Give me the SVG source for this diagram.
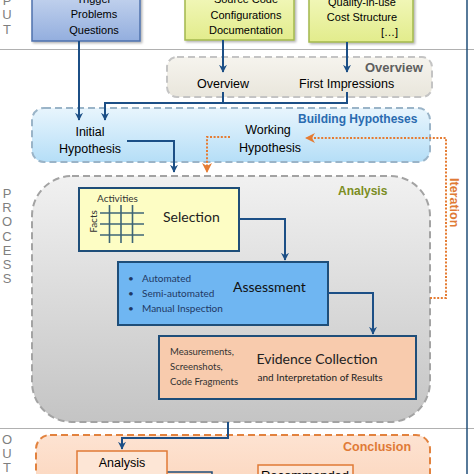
<svg xmlns="http://www.w3.org/2000/svg" width="474" height="474" viewBox="0 0 474 474">
<style>
.ar{font-family:"Liberation Sans",Arial,sans-serif}
.cb{font-family:Lato,"Open Sans",sans-serif}
.side{font-family:"Liberation Sans",Arial,sans-serif;font-size:13px;fill:#7f7f7f;text-anchor:middle}
.conn{fill:none;stroke:#1c4f86;stroke-width:2}
.iter{fill:none;stroke:#e57c33;stroke-width:2;stroke-dasharray:2 1.6}
.box{stroke:#1f4e79;stroke-width:2}
.grid{stroke:#3e6577;stroke-width:1.6}
</style>
<defs>
<linearGradient id="gBlue" x1="0" y1="0" x2="0" y2="1"><stop offset="0" stop-color="#d3dff3"/><stop offset="1" stop-color="#93aede"/></linearGradient>
<linearGradient id="gYel" x1="0" y1="0" x2="0" y2="1"><stop offset="0" stop-color="#f7fbc9"/><stop offset="1" stop-color="#e2ec8c"/></linearGradient>
<linearGradient id="gOv" x1="0" y1="0" x2="0" y2="1"><stop offset="0" stop-color="#f6f4ee"/><stop offset="1" stop-color="#e9e6dc"/></linearGradient>
<linearGradient id="gHyp" x1="0" y1="0" x2="0" y2="1"><stop offset="0" stop-color="#e8f5fd"/><stop offset="1" stop-color="#b5def7"/></linearGradient>
<linearGradient id="gAn" x1="0" y1="0" x2="0" y2="1"><stop offset="0" stop-color="#f1f1f1"/><stop offset="1" stop-color="#c4c4c4"/></linearGradient>
<linearGradient id="gCon" x1="0" y1="0" x2="0" y2="1"><stop offset="0" stop-color="#fde3d2"/><stop offset="1" stop-color="#fbd0b4"/></linearGradient>
<filter id="sh" x="-10%" y="-10%" width="130%" height="130%"><feDropShadow dx="1.5" dy="1.5" stdDeviation="1.2" flood-color="#000" flood-opacity="0.3"/></filter>
<marker id="ab" viewBox="0 0 10 10" refX="9" refY="5" markerWidth="8" markerHeight="8" markerUnits="userSpaceOnUse" orient="auto"><path d="M0,0 L10,5 L0,10 L3,5 Z" fill="#1c4f86"/></marker>
<marker id="ao" viewBox="0 0 10 10" refX="9" refY="5" markerWidth="10" markerHeight="10" markerUnits="userSpaceOnUse" orient="auto"><path d="M0,0 L10,5 L0,10 L3,5 Z" fill="#e57c33"/></marker>
</defs>

<rect width="474" height="474" fill="#ffffff"/>

<!-- separators -->
<g id="lanes">
<line x1="0" y1="49.5" x2="474" y2="49.5" stroke="#b0b0b0" stroke-width="1"/>
<line x1="0" y1="428.5" x2="474" y2="428.5" stroke="#b0b0b0" stroke-width="1"/>
<line x1="467" y1="0" x2="467" y2="474" stroke="#1f4e79" stroke-width="1.5"/>
<text class="side" x="7" y="5">P</text>
<text class="side" x="7" y="19">U</text>
<text class="side" x="7" y="34">T</text>
<text class="side" x="7" y="198">P</text>
<text class="side" x="7" y="212">R</text>
<text class="side" x="7" y="226">O</text>
<text class="side" x="7" y="241">C</text>
<text class="side" x="7" y="255">E</text>
<text class="side" x="7" y="269">S</text>
<text class="side" x="7" y="283">S</text>
<text class="side" x="7" y="444">O</text>
<text class="side" x="7" y="458">U</text>
<text class="side" x="7" y="472">T</text>
</g>

<!-- inputs -->
<g id="input-trigger">
<rect x="32" y="-20" width="108" height="61" fill="url(#gBlue)" stroke="#4f72ad" stroke-width="1.5" filter="url(#sh)"/>
<text class="ar" font-size="11" text-anchor="middle" x="94" y="2.5">Trigger</text>
<text class="ar" font-size="11" text-anchor="middle" x="94" y="18">Problems</text>
<text class="ar" font-size="11" text-anchor="middle" x="94" y="33.5">Questions</text>
</g>
<g id="input-source">
<rect x="185" y="-20" width="109" height="60" fill="url(#gYel)" stroke="#a3b84e" stroke-width="1.5" filter="url(#sh)"/>
<text class="ar" font-size="11" text-anchor="middle" x="246" y="3">Source Code</text>
<text class="ar" font-size="11" text-anchor="middle" x="246" y="18.5">Configurations</text>
<text class="ar" font-size="11" text-anchor="middle" x="246" y="34">Documentation</text>
</g>
<g id="input-quality">
<rect x="309" y="-20" width="104" height="62" fill="url(#gYel)" stroke="#a3b84e" stroke-width="1.5" filter="url(#sh)"/>
<text class="ar" font-size="11" text-anchor="middle" x="362" y="5.5">Quality-in-use</text>
<text class="ar" font-size="11" text-anchor="middle" x="362" y="21">Cost Structure</text>
<text class="ar" font-size="11" text-anchor="end" x="398" y="36">[…]</text>
</g>

<!-- overview -->
<g id="overview">
<rect x="167" y="57" width="265" height="40" rx="10" fill="url(#gOv)" stroke="#c4c4c4" stroke-width="2" stroke-dasharray="7 4"/>
<text class="ar" font-size="13" font-weight="bold" fill="#5f5f5f" x="365" y="72">Overview</text>
<text class="ar" font-size="12.5" x="197" y="88">Overview</text>
<text class="ar" font-size="12.5" x="299" y="88">First Impressions</text>
</g>

<!-- building hypotheses -->
<g id="hypotheses">
<rect x="32" y="108" width="398" height="54" rx="12" fill="url(#gHyp)" stroke="#9ab4c8" stroke-width="2" stroke-dasharray="7 4"/>
<text class="ar" font-size="12" font-weight="bold" fill="#2a6bb0" x="298" y="123">Building Hypotheses</text>
<text class="ar" font-size="12.5" text-anchor="middle" x="90" y="136">Initial</text>
<text class="ar" font-size="12.5" text-anchor="middle" x="90" y="153">Hypothesis</text>
<text class="ar" font-size="12.5" text-anchor="middle" x="268" y="134">Working</text>
<text class="ar" font-size="12.5" text-anchor="middle" x="270" y="152">Hypothesis</text>
</g>

<!-- analysis -->
<g id="analysis">
<rect x="32" y="176" width="398" height="246" rx="40" fill="url(#gAn)" stroke="#a3a3a3" stroke-width="2" stroke-dasharray="7 4"/>
<text class="ar" font-size="12" font-weight="bold" fill="#7b8d23" x="338" y="195">Analysis</text>
</g>

<g id="selection">
<rect class="box" x="79" y="188" width="160" height="63" fill="#fdfdc4"/>
<text class="cb" font-size="10" x="97" y="202" fill="#333">Activities</text>
<text class="cb" font-size="10" fill="#333" transform="translate(97,221.5) rotate(-90)" text-anchor="middle">Facts</text>
<line class="grid" x1="109.5" y1="205" x2="109.5" y2="243"/>
<line class="grid" x1="121" y1="205" x2="121" y2="243"/>
<line class="grid" x1="132.5" y1="205" x2="132.5" y2="243"/>
<line class="grid" x1="100" y1="213" x2="144" y2="213"/>
<line class="grid" x1="100" y1="224" x2="144" y2="224"/>
<line class="grid" x1="100" y1="235" x2="144" y2="235"/>
<text class="cb" font-size="14" x="163" y="222" fill="#222">Selection</text>
</g>

<g id="assessment">
<rect class="box" x="118" y="262" width="210" height="63" fill="#6fb6f2"/>
<g class="cb" font-size="10" fill="#1f3864">
<text x="128" y="282">•</text><text x="142" y="282">Automated</text>
<text x="128" y="297">•</text><text x="142" y="297">Semi-automated</text>
<text x="128" y="312">•</text><text x="142" y="312">Manual Inspection</text>
</g>
<text class="cb" font-size="14" x="233" y="292" fill="#111">Assessment</text>
</g>

<g id="evidence">
<rect class="box" x="159" y="336" width="257" height="63" fill="#f8cbad"/>
<g class="cb" font-size="9.5" fill="#333">
<text x="170" y="355">Measurements,</text>
<text x="170" y="370">Screenshots,</text>
<text x="170" y="385">Code Fragments</text>
</g>
<text class="cb" font-size="14" x="317" y="364" text-anchor="middle" fill="#222">Evidence Collection</text>
<text class="cb" font-size="10" x="320" y="381" text-anchor="middle" fill="#222">and Interpretation of Results</text>
</g>

<!-- conclusion -->
<g id="conclusion">
<rect x="36" y="435" width="394" height="80" rx="14" fill="url(#gCon)" stroke="#e2823e" stroke-width="2" stroke-dasharray="7 4"/>
<text class="ar" font-size="12.5" font-weight="bold" fill="#e07a36" x="343" y="451">Conclusion</text>
</g>
<g id="conclusion-other">
<rect x="140" y="472" width="72" height="20" fill="#fbd0b4" stroke="#1f4e79" stroke-width="1.5"/>
</g>
<g id="conclusion-analysis">
<rect x="77" y="451" width="90" height="40" fill="#fde6d6" stroke="#e07a36" stroke-width="1.5"/>
<text class="ar" font-size="12.5" text-anchor="middle" x="122" y="467">Analysis</text>
</g>
<g id="recommended">
<rect x="258" y="465" width="95" height="30" fill="#fde6d6" stroke="#e07a36" stroke-width="1.5"/>
<text class="ar" font-size="13" text-anchor="middle" x="305" y="480">Recommended</text>
</g>

<!-- connectors -->
<g id="connectors">
<path class="conn" d="M79,41 V120" marker-end="url(#ab)"/>
<path class="conn" d="M223,40 V72" marker-end="url(#ab)"/>
<path class="conn" d="M347,42 V72" marker-end="url(#ab)"/>
<path class="conn" d="M223,92 V103"/>
<path class="conn" d="M347,92 V103 H105 V120" marker-end="url(#ab)"/>
<path class="conn" d="M127,141 H174 V172" marker-end="url(#ab)"/>
<path class="conn" d="M239,219 H285 V260" marker-end="url(#ab)"/>
<path class="conn" d="M328,293 H373 V334" marker-end="url(#ab)"/>
<path class="conn" d="M228,422 V438 H122 V449" marker-end="url(#ab)"/>
<path class="iter" d="M430,298 H446 V138 H306" marker-end="url(#ao)"/>
<path class="iter" d="M230,137 H207 V172" marker-end="url(#ao)"/>
<text class="ar" font-size="12.5" font-weight="bold" fill="#e07a36" transform="translate(450,178) rotate(90)">Iteration</text>
</g>
</svg>
